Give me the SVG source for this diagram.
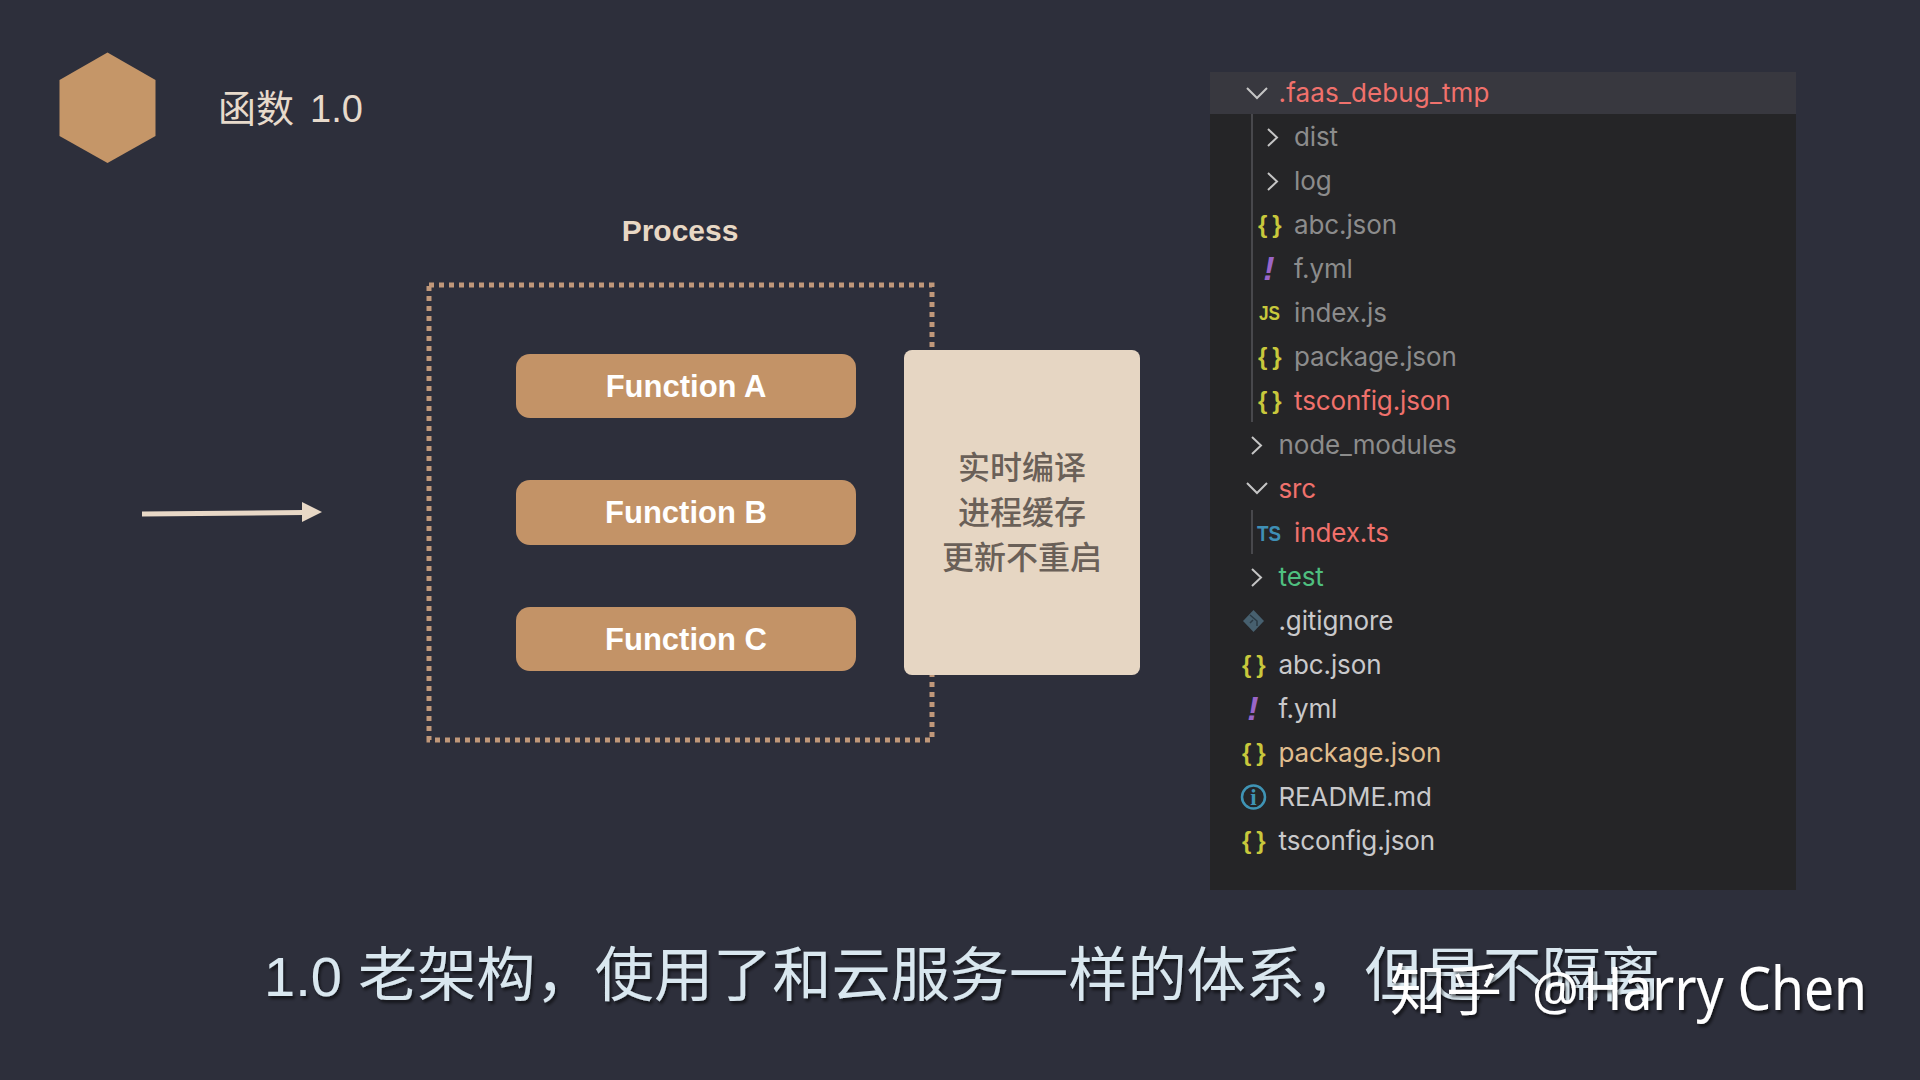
<svg xmlns="http://www.w3.org/2000/svg" width="1920" height="1080" viewBox="0 0 1920 1080">
<style>
.f{font-family:"Inter","Liberation Sans",sans-serif;font-size:26px;letter-spacing:-.12px}
.g{fill:#8c8c8c}.w{fill:#c9c9cb}.r{fill:#f0716c}
.y{fill:#c8c83c;font-family:"Liberation Sans",sans-serif;font-size:24px;font-weight:700;letter-spacing:5px}
.p{fill:#9a65c8;font-family:"Liberation Sans",sans-serif;font-size:34px;font-weight:700;font-style:italic;text-anchor:middle}
.c{fill:none;stroke:#c5c5c5;stroke-width:2}
.fb{fill:#c39367}
.ft{fill:#fff;font-family:"Liberation Sans",sans-serif;font-size:31px;font-weight:700;text-anchor:middle}
.m{fill:#6a6058;font-family:"Noto Sans CJK SC",sans-serif;font-size:32px;font-weight:500;text-anchor:middle}
</style>
<defs><filter id="s" x="-5%" y="-20%" width="110%" height="140%"><feDropShadow dx="2" dy="3" stdDeviation="1.5" flood-color="#000" flood-opacity=".55"/></filter></defs>
<rect width="1920" height="1080" fill="#2d2f3b"/>
<g id="hexagon"><polygon points="107.5,52.5 155.5,80 155.5,136 107.5,163 59.5,136 59.5,80" fill="#c59668"/></g>
<g id="title"><text x="218" y="122" font-family="Liberation Sans,Noto Sans CJK SC,sans-serif" font-size="38" fill="#e7dacb">函数<tspan x="310">1.0</tspan></text></g>
<g id="process">
<text x="680" y="241" text-anchor="middle" font-family="Liberation Sans,sans-serif" font-size="30" font-weight="700" fill="#e8d8c5">Process</text>
<rect x="429" y="285" width="503" height="455" fill="none" stroke="#c0987a" stroke-width="5" stroke-dasharray="5 5"/>
</g>
<g id="function-a"><rect class="fb" x="516" y="354" width="340" height="64" rx="14"/><text class="ft" x="686" y="397">Function A</text></g>
<g id="function-b"><rect class="fb" x="516" y="480" width="340" height="65" rx="14"/><text class="ft" x="686" y="523">Function B</text></g>
<g id="function-c"><rect class="fb" x="516" y="607" width="340" height="64" rx="14"/><text class="ft" x="686" y="650">Function C</text></g>
<g id="compile-box"><rect x="904" y="350" width="236" height="325" rx="8" fill="#e6d6c3"/>
<text class="m" x="1022" y="479">实时编译</text><text class="m" x="1022" y="524">进程缓存</text><text class="m" x="1022" y="569">更新不重启</text></g>
<g id="connectors"><path d="M142 514 L304 512.5" stroke="#e8d8c6" stroke-width="5" fill="none"/><polygon points="302,502 322,512 302,522" fill="#e8d8c6"/></g>
<g id="file-tree">
<rect x="1210" y="72" width="586" height="818" fill="#252527"/>
<rect x="1210" y="72" width="586" height="42" fill="#38383f"/>
<path d="M1252 114V422M1252 510V554" stroke="#48484c" stroke-width="2" fill="none"/>
<path class="c" d="M1247 88l10 10 10-10M1268 129l9 8.500-9 8.500M1268 173l9 8.500-9 8.500M1252 437l9 8.500-9 8.500M1247 483l10 10 10-10M1252 569l9 8.500-9 8.500"/>
<text class="f r" x="1278.500" y="102" style="letter-spacing:.15px">.faas_debug_tmp</text>
<text class="f g" x="1294" y="146">dist</text>
<text class="f g" x="1294" y="190">log</text>
<text class="f g" x="1294" y="234">abc.json</text>
<text class="f g" x="1294" y="278">f.yml</text>
<text class="f g" x="1294" y="322">index.js</text>
<text class="f g" x="1294" y="366">package.json</text>
<text class="f r" x="1294" y="410">tsconfig.json</text>
<text class="f g" x="1278.500" y="454">node_modules</text>
<text class="f r" x="1278.500" y="498">src</text>
<text class="f r" x="1294" y="542">index.ts</text>
<text class="f" fill="#4fbf7f" x="1278.500" y="586">test</text>
<text class="f w" x="1278.500" y="630">.gitignore</text>
<text class="f w" x="1278.500" y="674">abc.json</text>
<text class="f w" x="1278.500" y="718">f.yml</text>
<text class="f" fill="#e0bd8f" x="1278.500" y="762">package.json</text>
<text class="f w" x="1278.500" y="806">README.md</text>
<text class="f w" x="1278.500" y="850">tsconfig.json</text>
<text class="y" x="1258" y="233">{}</text>
<text class="p" x="1269" y="280">!</text>
<text x="1259" y="320" font-family="Liberation Sans,sans-serif" font-size="21" font-weight="700" fill="#c8c83c" textLength="21" lengthAdjust="spacingAndGlyphs">JS</text>
<text class="y" x="1258" y="365">{}</text>
<text class="y" x="1258" y="409">{}</text>
<text x="1257" y="541" font-family="Liberation Sans,sans-serif" font-size="22" font-weight="700" fill="#3f8fb5" textLength="24" lengthAdjust="spacingAndGlyphs">TS</text>
<polygon points="1253.500,610 1264,621 1253.500,632 1243,621" fill="#47606f"/>
<path d="M1250 615l7 6v5M1253 620l-3 3" stroke="#2b3a44" stroke-width="1.500" fill="none"/>
<text class="y" x="1242" y="673">{}</text>
<text class="p" x="1253" y="720">!</text>
<text class="y" x="1242" y="761">{}</text>
<circle cx="1253.500" cy="797" r="11.500" fill="none" stroke="#3f94b5" stroke-width="2.500"/>
<text x="1253.500" y="805" text-anchor="middle" font-family="Liberation Serif,serif" font-size="23" font-weight="700" fill="#3f94b5">i</text>
<text class="y" x="1242" y="849">{}</text>
</g>
<g id="subtitle"><text y="996" font-family="Noto Sans CJK SC,sans-serif" font-size="59.2" fill="#d9e7ef" filter="url(#s)"><tspan x="264" font-family="Liberation Sans,sans-serif" font-size="56">1.0 </tspan><tspan x="358">老架构，使用了和云服务一样的体系，但是不隔离</tspan></text></g>
<g id="watermark"><text y="1010" font-family="Noto Sans CJK SC,sans-serif" font-size="56" fill="#fff" filter="url(#s)"><tspan x="1390">知乎 </tspan><tspan x="1532" font-family="Noto Sans,sans-serif" font-size="52">@</tspan><tspan x="1583" font-family="Noto Sans,sans-serif" font-size="60" textLength="284" lengthAdjust="spacingAndGlyphs">Harry Chen</tspan></text></g>
</svg>
